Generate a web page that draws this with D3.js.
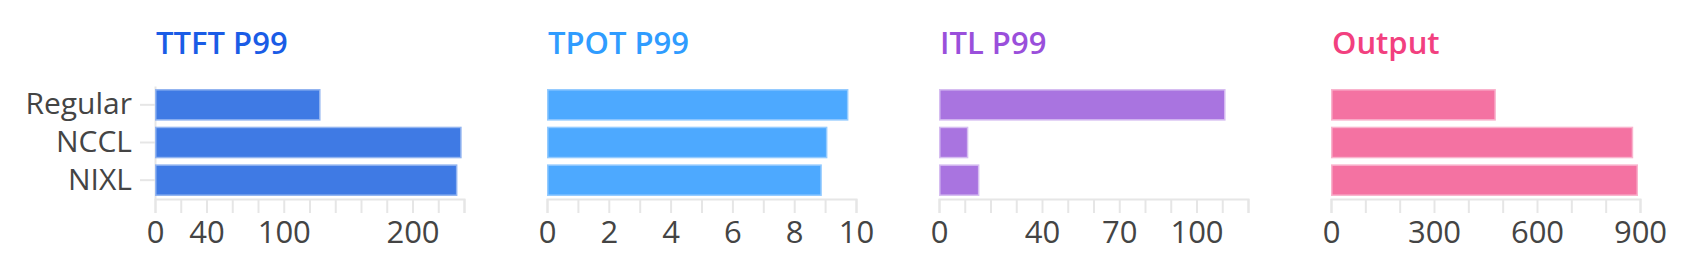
<!DOCTYPE html>
<html>
<head>
<meta charset="utf-8">
<script src="https://cdn.jsdelivr.net/npm/d3@7"></script>
<style>
  body { margin: 0; background: #fff; }
  svg { display: block; }
  .tick text { font-family: "Open Sans", sans-serif; fill: #444; }
</style>
</head>
<body>
<div id="container"></div>
<script>
const w = 1700;
const h = 274;
const panelLeft = 155;
const panelStep = 392;
const plotW = 309;
const plotTop = 86;
const plotBottom = 199;

// data
const categories = ["Regular", "NCCL", "NIXL"];
const titles = ["TTFT P99", "TPOT P99", "ITL P99", "Output"];
const ttftP99 = [128, 237.6, 234.3];
const tpotP99 = [9.73, 9.05, 8.87];
const itlP99 = [111, 11.1, 15.4];
const outputTput = [478, 878, 892];

const ttftTicks = [0, 20, 40, 60, 80, 100, 120, 140, 160, 180, 200, 220, 240];
const ttftLabels = [0, 40, 100, 200];
const tpotTicks = [0, 1, 2, 3, 4, 5, 6, 7, 8, 9, 10];
const tpotLabels = [0, 2, 4, 6, 8, 10];
const itlTicks = [0, 10, 20, 30, 40, 50, 60, 70, 80, 90, 100, 110, 120];
const itlLabels = [0, 40, 70, 100];
const outputTicks = [0, 100, 200, 300, 400, 500, 600, 700, 800, 900];
const outputLabels = [0, 300, 600, 900];

const panels = [
  { title: titles[0], values: ttftP99, ticks: ttftTicks, labels: ttftLabels,
    titleColor: "#1a5ce6", fill: "#3f7ae4", stroke: "#92b4f0" },
  { title: titles[1], values: tpotP99, ticks: tpotTicks, labels: tpotLabels,
    titleColor: "#2f9cff", fill: "#4da9ff", stroke: "#94cbff" },
  { title: titles[2], values: itlP99, ticks: itlTicks, labels: itlLabels,
    titleColor: "#9a4fdb", fill: "#a974e0", stroke: "#d6bdf1" },
  { title: titles[3], values: outputTput, ticks: outputTicks, labels: outputLabels,
    titleColor: "#f2407f", fill: "#f472a2", stroke: "#f9b3cd" }
];

const svg = d3.select("#container")
  .append("svg")
  .attr("width", w)
  .attr("height", h);

const yScale = d3.scaleBand()
  .domain(categories)
  .range([plotTop, plotBottom])
  .paddingInner(0.2)
  .paddingOuter(0.1);

panels.forEach((p, i) => {
  const g = svg.append("g")
    .attr("transform", `translate(${panelLeft + i * panelStep}, 0)`);

  const xScale = d3.scaleLinear()
    .domain([0, d3.max(p.ticks)])
    .range([0, plotW]);

  g.append("text")
    .text(p.title)
    .attr("x", 1)
    .attr("y", 54)
    .style("font-family", "'Open Sans', sans-serif")
    .style("font-weight", 600)
    .style("font-size", "31px")
    .style("fill", p.titleColor);

  if (i === 0) {
    const yAxis = d3.axisLeft(yScale)
      .tickSize(15)
      .tickSizeOuter(0)
      .tickPadding(8);
    const yg = g.append("g").call(yAxis);
    yg.select(".domain").attr("stroke", "#e6e6e6").attr("stroke-width", 2);
    yg.selectAll(".tick line").attr("stroke", "#e6e6e6").attr("stroke-width", 2);
    yg.selectAll(".tick text").style("font-size", "30px");
  }

  g.selectAll("rect")
    .data(p.values)
    .enter()
    .append("rect")
    .attr("x", xScale(0) + 0.75)
    .attr("y", (d, j) => yScale(categories[j]))
    .attr("width", d => xScale(d) - xScale(0) - 0.75)
    .attr("height", yScale.bandwidth())
    .style("fill", p.fill)
    .style("stroke", p.stroke)
    .style("stroke-width", 1.5);

  const xAxis = d3.axisBottom(xScale)
    .tickValues(p.ticks)
    .tickSize(14)
    .tickPadding(8)
    .tickFormat(d => (p.labels.includes(d) ? d : ""));
  const xg = g.append("g")
    .attr("transform", `translate(0, ${plotBottom})`)
    .call(xAxis);
  xg.select(".domain").attr("stroke", "#e6e6e6").attr("stroke-width", 2);
  xg.selectAll(".tick line").attr("stroke", "#e6e6e6").attr("stroke-width", 2);
  xg.selectAll(".tick text").style("font-size", "31px");
});
</script>
</body>
</html>
